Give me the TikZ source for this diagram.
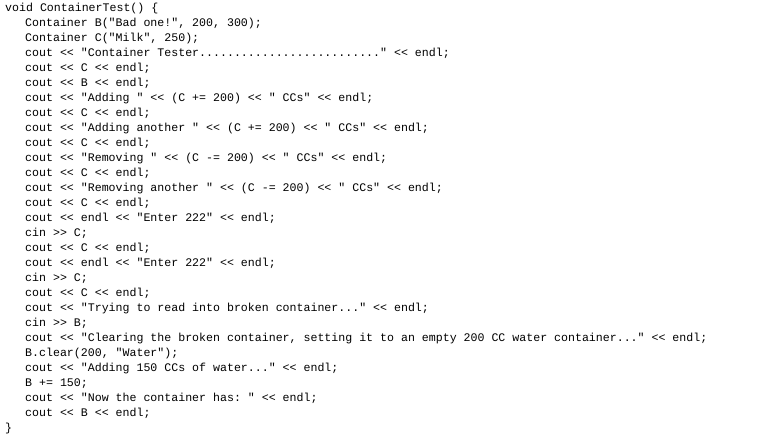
\documentclass[tikz,border=0pt]{standalone}
\usepackage{fontspec}
\setmonofont{Liberation Mono}
\begin{document}
\begin{tikzpicture}[x=1pt,y=1pt,
  code/.style={anchor=base west,inner sep=0pt,font=\fontsize{11.6}{15}\ttfamily,text=black}]
\useasboundingbox (0,0) rectangle (773,441);
\def\L#1#2#3{\node[code] (l#1) at (#2,{441-12-15*#1}) {#3};}
\L{0}{5}{void ContainerTest() \{}
\L{1}{25}{Container B("Bad one!", 200, 300);}
\L{2}{25}{Container C("Milk", 250);}
\L{3}{25}{cout << "Container Tester.........................." << endl;}
\L{4}{25}{cout << C << endl;}
\L{5}{25}{cout << B << endl;}
\L{6}{25}{cout << "Adding " << (C += 200) << " CCs" << endl;}
\L{7}{25}{cout << C << endl;}
\L{8}{25}{cout << "Adding another " << (C += 200) << " CCs" << endl;}
\L{9}{25}{cout << C << endl;}
\L{10}{25}{cout << "Removing " << (C -= 200) << " CCs" << endl;}
\L{11}{25}{cout << C << endl;}
\L{12}{25}{cout << "Removing another " << (C -= 200) << " CCs" << endl;}
\L{13}{25}{cout << C << endl;}
\L{14}{25}{cout << endl << "Enter 222" << endl;}
\L{15}{25}{cin >> C;}
\L{16}{25}{cout << C << endl;}
\L{17}{25}{cout << endl << "Enter 222" << endl;}
\L{18}{25}{cin >> C;}
\L{19}{25}{cout << C << endl;}
\L{20}{25}{cout << "Trying to read into broken container..." << endl;}
\L{21}{25}{cin >> B;}
\L{22}{25}{cout << "Clearing the broken container, setting it to an empty 200 CC water container..." << endl;}
\L{23}{25}{B.clear(200, "Water");}
\L{24}{25}{cout << "Adding 150 CCs of water..." << endl;}
\L{25}{25}{B += 150;}
\L{26}{25}{cout << "Now the container has: " << endl;}
\L{27}{25}{cout << B << endl;}
\L{28}{5}{\}}
\end{tikzpicture}
\end{document}
